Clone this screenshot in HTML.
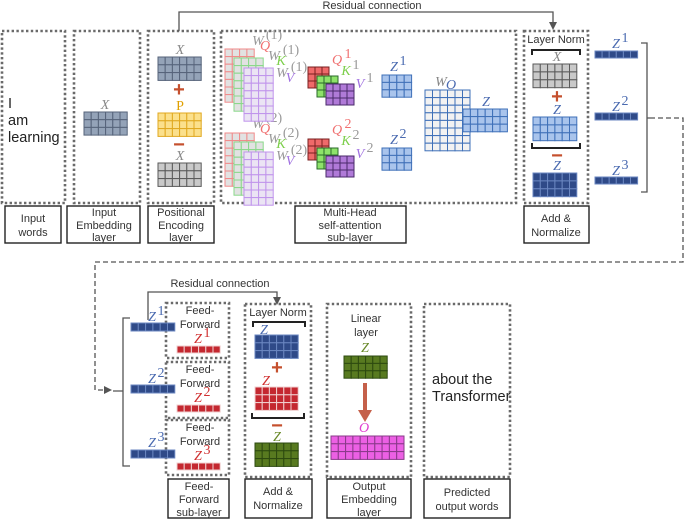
<!DOCTYPE html>
<html><head><meta charset="utf-8"><style>
html,body{margin:0;padding:0;background:#fff;}
svg{display:block;}
.t{font-family:"Liberation Sans",sans-serif;font-size:11px;fill:#333;text-anchor:middle;}
.m{font-family:"Liberation Serif",serif;font-style:italic;font-size:14px;text-anchor:middle;}
.big{font-family:"Liberation Sans",sans-serif;font-size:14.5px;fill:#222;}
.dot{fill:none;stroke:#6a6a6a;stroke-width:2.6;stroke-dasharray:2.4 2.4;}
.lab{fill:#fff;stroke:#222;stroke-width:1.4;}
</style></head><body>
<svg id="s" width="685" height="520" viewBox="0 0 685 520" xmlns="http://www.w3.org/2000/svg">
<defs><marker id="ar" markerWidth="8" markerHeight="8" refX="4" refY="4" orient="auto" markerUnits="userSpaceOnUse"><path d="M0,0 L8,4 L0,8 z" fill="#555"/></marker></defs>
<rect class="dot" x="2" y="31" width="63" height="172"/>
<rect class="dot" x="74" y="31" width="66" height="172"/>
<rect class="dot" x="148" y="31" width="66" height="172"/>
<rect class="dot" x="221" y="31" width="295" height="172"/>
<rect class="dot" x="524" y="31" width="64" height="172"/>
<rect class="lab" x="5" y="206" width="56" height="37"/>
<text class="t" x="33" y="222">Input</text><text class="t" x="33" y="236">words</text>
<rect class="lab" x="67" y="206" width="73" height="37"/>
<text class="t" x="104" y="216">Input</text><text class="t" x="104" y="229">Embedding</text><text class="t" x="104" y="241">layer</text>
<rect class="lab" x="148" y="206" width="66" height="37"/>
<text class="t" x="181" y="216">Positional</text><text class="t" x="181" y="229">Encoding</text><text class="t" x="181" y="241">layer</text>
<rect class="lab" x="295" y="206" width="111" height="37"/>
<text class="t" x="350" y="216">Multi-Head</text><text class="t" x="350" y="229">self-attention</text><text class="t" x="350" y="241">sub-layer</text>
<rect class="lab" x="524" y="206" width="65" height="37"/>
<text class="t" x="556" y="222">Add &amp;</text><text class="t" x="556" y="236">Normalize</text>
<text class="t" x="372" y="9">Residual connection</text>
<polyline points="179,31 179,12 553,12 553,26" fill="none" stroke="#555" stroke-width="1.3" marker-end="url(#ar)"/>
<text class="big" x="8" y="108">I</text>
<text class="big" x="8" y="125">am</text>
<text class="big" x="8" y="142">learning</text>
<text class="m" x="105" y="109" fill="#888">X</text>
<text class="m" x="180" y="54" fill="#888">X</text>
<text x="179" y="96" font-family="Liberation Sans" font-size="20" font-weight="bold" fill="#c5502e" text-anchor="middle">+</text>
<text class="m" x="180" y="110" fill="#e0a000" style="font-style:normal">P</text>
<text x="179" y="151" font-family="Liberation Sans" font-size="20" font-weight="bold" fill="#c5502e" text-anchor="middle">−</text>
<text class="m" x="180" y="160" fill="#888">X</text>
<text class="m" x="258" y="45" fill="#999">W</text><text class="m" x="274" y="39" fill="#999" font-size="10" style="font-style:normal">(1)</text><text class="m" x="265" y="50" fill="#f07070" font-size="9">Q</text>
<text class="m" x="274" y="60" fill="#999">W</text><text class="m" x="291" y="54" fill="#999" font-size="10" style="font-style:normal">(1)</text><text class="m" x="281" y="65" fill="#7ccf4a" font-size="9">K</text>
<text class="m" x="282" y="77" fill="#999">W</text><text class="m" x="299" y="71" fill="#999" font-size="10" style="font-style:normal">(1)</text><text class="m" x="290" y="82" fill="#a070e0" font-size="9">V</text>
<text class="m" x="258" y="128" fill="#999">W</text><text class="m" x="274" y="122" fill="#999" font-size="10" style="font-style:normal">(2)</text><text class="m" x="265" y="133" fill="#f07070" font-size="9">Q</text>
<text class="m" x="274" y="143" fill="#999">W</text><text class="m" x="291" y="137" fill="#999" font-size="10" style="font-style:normal">(2)</text><text class="m" x="281" y="148" fill="#7ccf4a" font-size="9">K</text>
<text class="m" x="282" y="160" fill="#999">W</text><text class="m" x="299" y="154" fill="#999" font-size="10" style="font-style:normal">(2)</text><text class="m" x="290" y="165" fill="#a070e0" font-size="9">V</text>
<text class="m" x="337" y="64" fill="#f07070">Q</text><text class="m" x="348" y="58" fill="#f07070" font-size="10" style="font-style:normal">1</text>
<text class="m" x="346" y="75" fill="#7ccf4a">K</text><text class="m" x="356" y="69" fill="#999" font-size="10" style="font-style:normal">1</text>
<text class="m" x="360" y="88" fill="#a070e0">V</text><text class="m" x="370" y="82" fill="#999" font-size="10" style="font-style:normal">1</text>
<text class="m" x="337" y="134" fill="#f07070">Q</text><text class="m" x="348" y="128" fill="#f07070" font-size="10" style="font-style:normal">2</text>
<text class="m" x="346" y="145" fill="#7ccf4a">K</text><text class="m" x="356" y="139" fill="#999" font-size="10" style="font-style:normal">2</text>
<text class="m" x="360" y="158" fill="#a070e0">V</text><text class="m" x="370" y="152" fill="#999" font-size="10" style="font-style:normal">2</text>
<text class="m" x="394" y="71" fill="#4a6ab0">Z</text><text class="m" x="403" y="65" fill="#4a6ab0" font-size="10" style="font-style:normal">1</text>
<text class="m" x="394" y="144" fill="#4a6ab0">Z</text><text class="m" x="403" y="138" fill="#4a6ab0" font-size="10" style="font-style:normal">2</text>
<text class="m" x="441" y="86" fill="#888">W</text><text class="m" x="451" y="89" fill="#4a6ab0" font-size="10">O</text>
<text class="m" x="486" y="106" fill="#4a6ab0">Z</text>
<text class="t" x="556" y="43" fill="#222">Layer Norm</text>
<path d="M532,55 V50 H580 V55" fill="none" stroke="#222" stroke-width="2"/>
<text class="m" x="557" y="61" fill="#888">X</text>
<text x="557" y="103" font-family="Liberation Sans" font-size="20" font-weight="bold" fill="#c5502e" text-anchor="middle">+</text>
<text class="m" x="557" y="114" fill="#4a6ab0">Z</text>
<path d="M532,143 V148 H580 V143" fill="none" stroke="#222" stroke-width="2"/>
<text x="557" y="162" font-family="Liberation Sans" font-size="20" font-weight="bold" fill="#c5502e" text-anchor="middle">−</text>
<text class="m" x="557" y="170" fill="#4a6ab0">Z</text>
<text class="m" x="616" y="48" fill="#4a6ab0">Z</text><text class="m" x="625" y="42" fill="#4a6ab0" font-size="10" style="font-style:normal">1</text>
<text class="m" x="616" y="111" fill="#4a6ab0">Z</text><text class="m" x="625" y="105" fill="#4a6ab0" font-size="10" style="font-style:normal">2</text>
<text class="m" x="616" y="175" fill="#4a6ab0">Z</text><text class="m" x="625" y="169" fill="#4a6ab0" font-size="10" style="font-style:normal">3</text>
<path d="M641,43 H647 V192 H641 M647,118 H650" fill="none" stroke="#555" stroke-width="1.3"/>
<polyline points="650,118 683,118 683,262 95,262 95,390 108,390" fill="none" stroke="#555" stroke-width="1.3" stroke-dasharray="5 3" marker-end="url(#ar)"/>
<path d="M130,318 H123 V466 H130 M113,391 H123" fill="none" stroke="#555" stroke-width="1.3"/>
<text class="t" x="220" y="287">Residual connection</text>
<polyline points="148,320 148,292 277,292 277,301" fill="none" stroke="#555" stroke-width="1.3" marker-end="url(#ar)"/>
<rect class="dot" x="166" y="303" width="63" height="55"/>
<rect class="dot" x="166" y="362" width="63" height="56"/>
<rect class="dot" x="166" y="420" width="63" height="55"/>
<rect class="dot" x="245" y="304" width="66" height="173"/>
<rect class="dot" x="327" y="304" width="84" height="173"/>
<rect class="dot" x="424" y="304" width="86" height="173"/>
<rect class="lab" x="168" y="479" width="61" height="39"/>
<text class="t" x="199" y="490">Feed-</text><text class="t" x="199" y="503">Forward</text><text class="t" x="199" y="516">sub-layer</text>
<rect class="lab" x="245" y="479" width="67" height="39"/>
<text class="t" x="278" y="495">Add &amp;</text><text class="t" x="278" y="509">Normalize</text>
<rect class="lab" x="327" y="479" width="84" height="39"/>
<text class="t" x="369" y="490">Output</text><text class="t" x="369" y="503">Embedding</text><text class="t" x="369" y="516">layer</text>
<rect class="lab" x="424" y="479" width="86" height="39"/>
<text class="t" x="467" y="496">Predicted</text><text class="t" x="467" y="510">output words</text>
<g>
<text class="t" x="200" y="314" font-size="11.5">Feed-</text><text class="t" x="200" y="328" font-size="11.5">Forward</text>
<text class="m" x="198" y="343" fill="#d03030">Z</text><text class="m" x="207" y="337" fill="#d03030" font-size="10" style="font-style:normal">1</text>
<text class="t" x="200" y="373" font-size="11.5">Feed-</text><text class="t" x="200" y="387" font-size="11.5">Forward</text>
<text class="m" x="198" y="402" fill="#d03030">Z</text><text class="m" x="207" y="396" fill="#d03030" font-size="10" style="font-style:normal">2</text>
<text class="t" x="200" y="431" font-size="11.5">Feed-</text><text class="t" x="200" y="445" font-size="11.5">Forward</text>
<text class="m" x="198" y="460" fill="#d03030">Z</text><text class="m" x="207" y="454" fill="#d03030" font-size="10" style="font-style:normal">3</text>
<text class="m" x="152" y="321" fill="#4a6ab0">Z</text><text class="m" x="161" y="315" fill="#4a6ab0" font-size="10" style="font-style:normal">1</text>
<text class="m" x="152" y="383" fill="#4a6ab0">Z</text><text class="m" x="161" y="377" fill="#4a6ab0" font-size="10" style="font-style:normal">2</text>
<text class="m" x="152" y="447" fill="#4a6ab0">Z</text><text class="m" x="161" y="441" fill="#4a6ab0" font-size="10" style="font-style:normal">3</text>
</g>
<text class="t" x="278" y="316" fill="#222">Layer Norm</text>
<path d="M253,327 V322 H305 V327" fill="none" stroke="#222" stroke-width="2"/>
<text class="m" x="264" y="334" fill="#4a6ab0">Z</text>
<text x="277" y="374" font-family="Liberation Sans" font-size="20" font-weight="bold" fill="#c5502e" text-anchor="middle">+</text>
<text class="m" x="266" y="385" fill="#d03030">Z</text>
<path d="M252,413 V418 H304 V413" fill="none" stroke="#222" stroke-width="2"/>
<text x="277" y="432" font-family="Liberation Sans" font-size="20" font-weight="bold" fill="#c5502e" text-anchor="middle">−</text>
<text class="m" x="277" y="441" fill="#6a8a2a">Z</text>
<text class="t" x="366" y="322" font-size="11.5">Linear</text><text class="t" x="366" y="336" font-size="11.5">layer</text>
<text class="m" x="365" y="352" fill="#6a8a2a">Z</text>
<path d="M365,383 V412" stroke="#c5604a" stroke-width="4"/>
<path d="M358,410 L372,410 L365,422 z" fill="#c5604a"/>
<text class="m" x="364" y="432" fill="#e040d0">O</text>
<text class="big" x="432" y="384">about the</text>
<text class="big" x="432" y="401">Transformer</text>
<g id="grids"></g>
</svg>
<script>
var g=document.getElementById('grids'),NS='http://www.w3.org/2000/svg';
function M(x,y,c,r,w,h,f,s){for(var i=0;i<r;i++)for(var j=0;j<c;j++){var e=document.createElementNS(NS,'rect');e.setAttribute('x',x+j*w);e.setAttribute('y',y+i*h);e.setAttribute('width',w);e.setAttribute('height',h);e.setAttribute('fill',f);e.setAttribute('stroke',s);e.setAttribute('stroke-width','1');g.appendChild(e);}}
var slate=['#94a3b8','#56637a'],gray=['#c9c9c9','#5a5a5a'],yel=['#fbe08c','#e0a820'],lb=['#a9c4ec','#3f70b8'],nv=['#2f4a88','#6a86c0'],rd=['#c42830','#f0d0d0'],gr=['#587a20','#2d4a10'],pk=['#ec60e4','#8a3a8a'];
M(84,112,6,3,7.2,7.7,slate[0],slate[1]);
M(158,57,6,3,7.2,7.8,slate[0],slate[1]);
M(158,113,6,3,7.2,7.8,yel[0],yel[1]);
M(158,163,6,3,7.2,7.8,gray[0],gray[1]);
function W(y){M(225,y,4,7,7.3,7.6,'#e2e2e2','#f08a8a');M(234,y+9,4,7,7.3,7.6,'#e2e2e2','#8ad88a');M(244,y+19,4,7,7.3,7.6,'#ebe4f4','#c094ec');}
W(49);W(133);
function Q(y){M(308,y,3,3,7,7,'#ef6a6a','#7a2020');M(317,y+9,3,3,7,7,'#8ee26a','#2a6a2a');M(326,y+17,4,3,7,7,'#b07ad8','#4a2a6a');}
Q(67);Q(139);
M(382,75,4,3,7.4,7.4,lb[0],lb[1]);M(382,148,4,3,7.4,7.4,lb[0],lb[1]);
M(425,90,6,8,7.5,7.6,'#f2f2f2','#3f70b8');
M(463,109,6,3,7.4,7.6,lb[0],lb[1]);
M(533,64,6,3,7.3,7.9,gray[0],gray[1]);
M(533,117,6,3,7.3,7.9,lb[0],lb[1]);
M(533,173,6,3,7.3,7.9,nv[0],nv[1]);
M(595,51,6,1,7.1,7,nv[0],nv[1]);M(595,113,6,1,7.1,7,nv[0],nv[1]);M(595,177,6,1,7.1,7,nv[0],nv[1]);
M(131,323,6,1,7.3,8,nv[0],nv[1]);M(131,385,6,1,7.3,8,nv[0],nv[1]);M(131,450,6,1,7.3,8,nv[0],nv[1]);
M(177,346,6,1,7.2,7,rd[0],rd[1]);M(177,405,6,1,7.2,7,rd[0],rd[1]);M(177,463,6,1,7.2,7,rd[0],rd[1]);
M(255,335,6,3,7.2,7.8,nv[0],nv[1]);
M(255,387,6,3,7.2,7.8,rd[0],rd[1]);
M(255,443,6,3,7.2,7.8,gr[0],gr[1]);
M(344,356,6,3,7.2,7.4,gr[0],gr[1]);
M(331,436,10,3,7.3,7.8,pk[0],pk[1]);
</script>
</body></html>
